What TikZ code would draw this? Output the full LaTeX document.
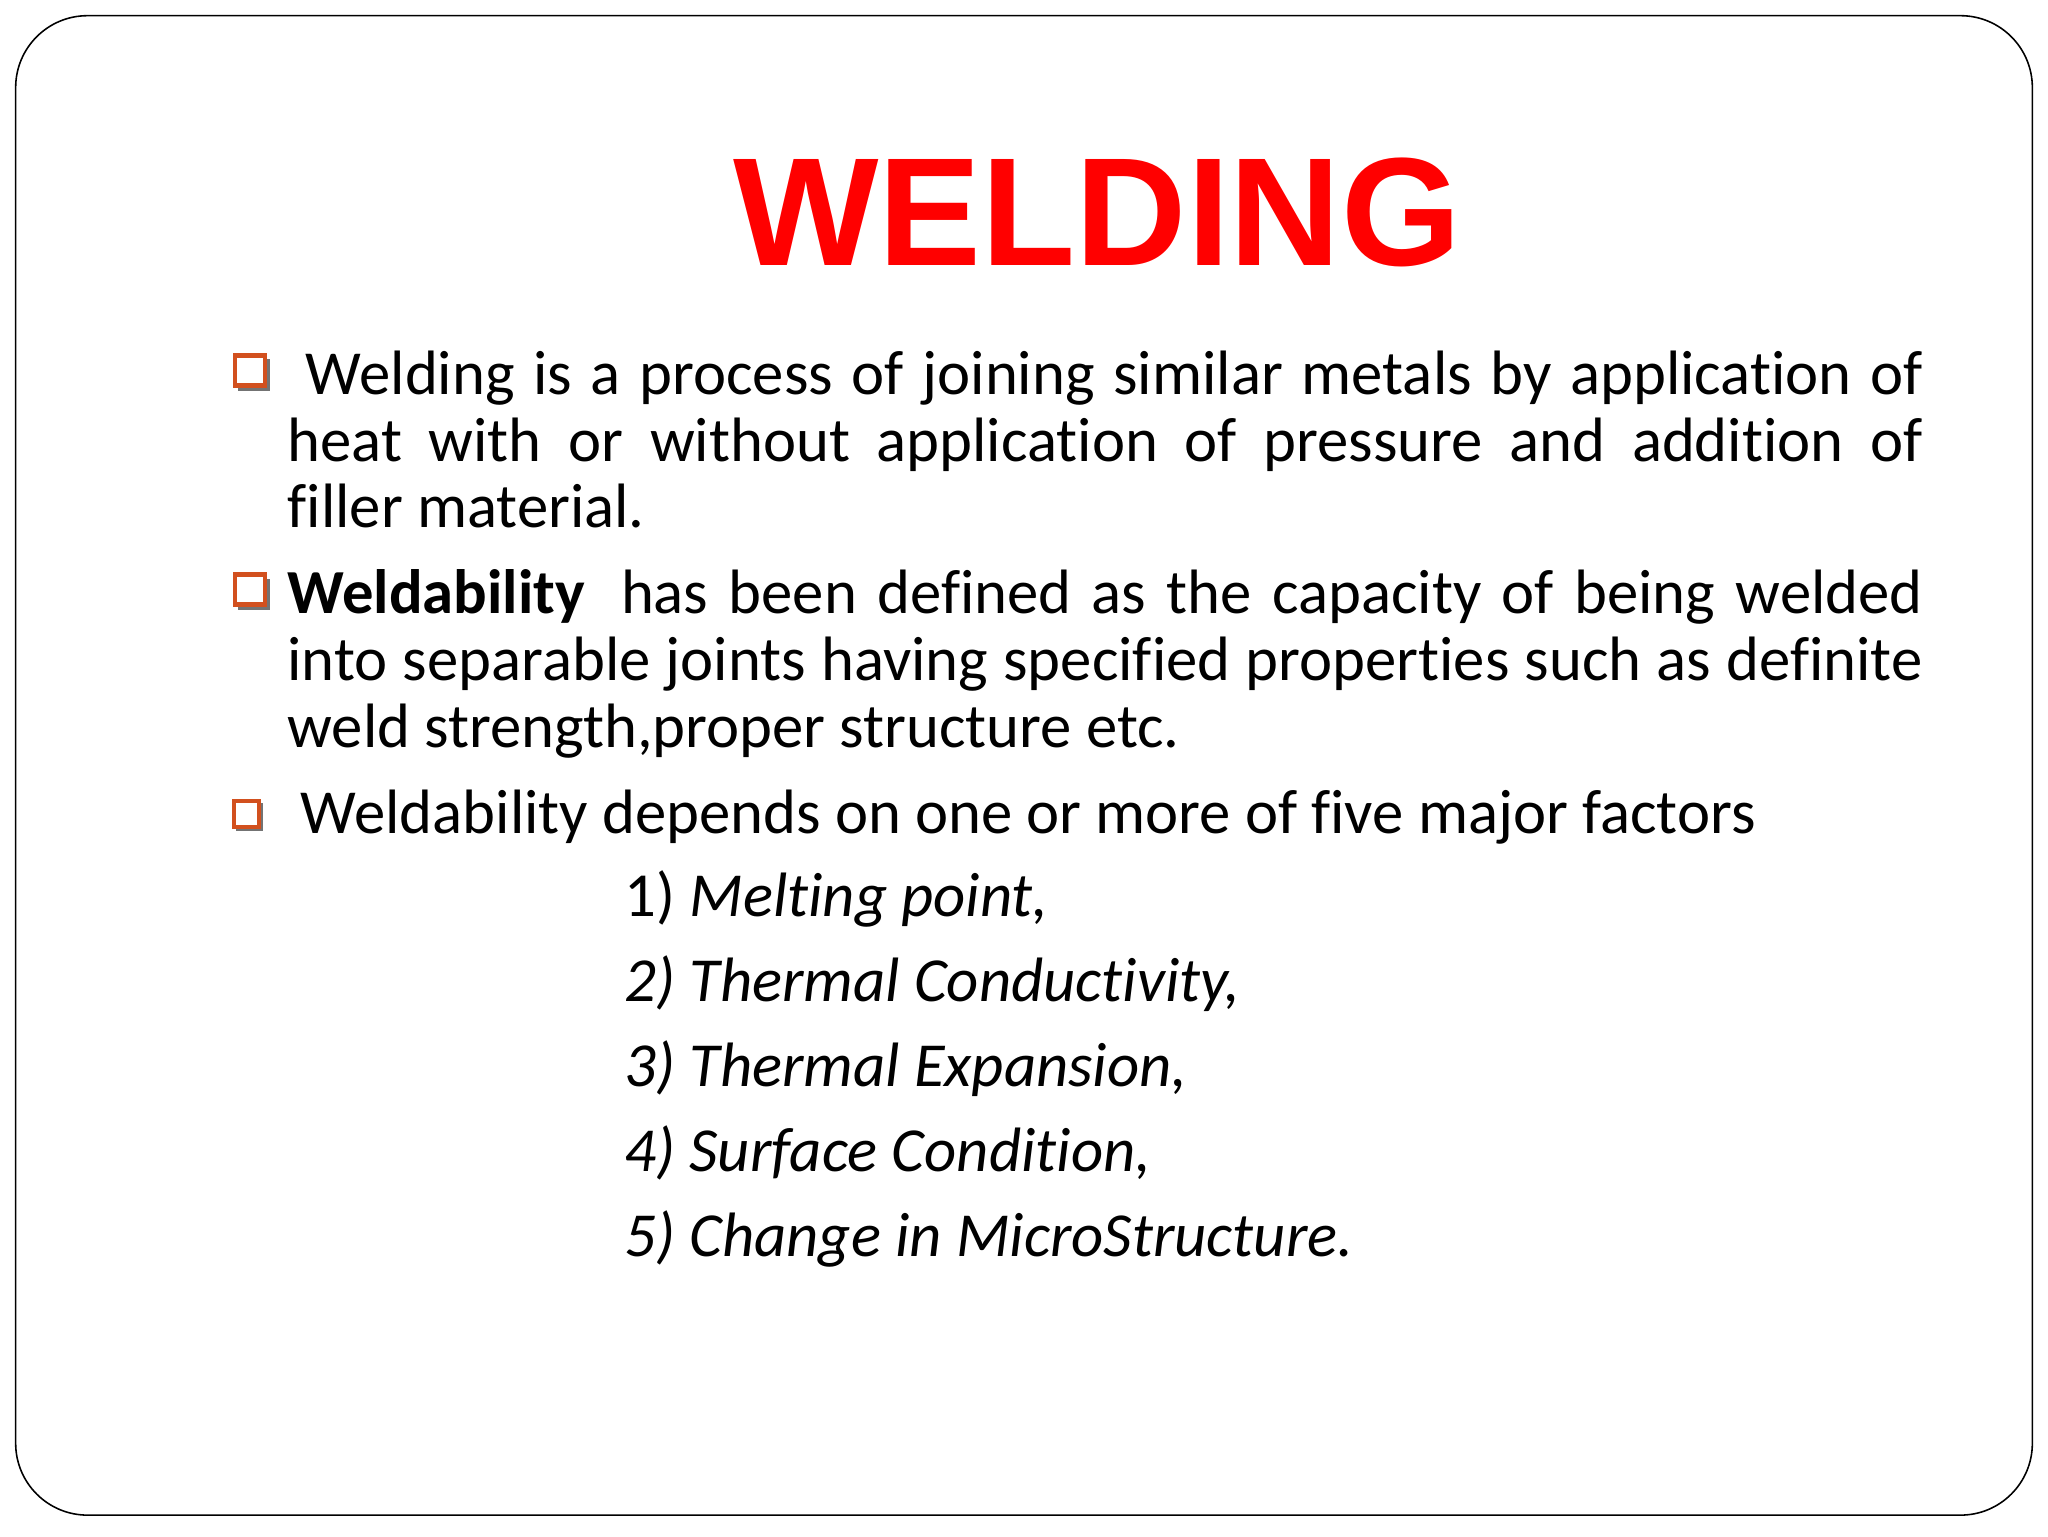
\documentclass[tikz,border=0pt]{standalone}
\usepackage{fontspec}
\setmainfont{Carlito}[Ligatures=NoCommon]
\newfontfamily\titlefont{Liberation Sans}
\definecolor{bul}{HTML}{D2501E}
\tikzset{ln/.style={anchor=base west,inner sep=0pt,font=\fontsize{48}{51}\selectfont},
 bsq/.style={draw=bul,line width=3.5pt}}
\newcommand{\jl}[1]{\makebox[1252pt][s]{#1}}
\begin{document}
\begin{tikzpicture}[x=1pt,y=-1pt]
\useasboundingbox (0,0) rectangle (1568,1176);
\draw[line width=1.2pt,rounded corners=55pt] (12,12) rectangle (1556,1160);
\node[inner sep=0pt,text=red,font=\titlefont\bfseries\fontsize{118}{118}\selectfont,anchor=base] (t) at (840,203) {WELDING};
% bullets
\fill[black!55] (182,275) rectangle (207,299);
\draw[bsq,fill=white] (180,272) rectangle (203,295);
\fill[black!55] (182,443) rectangle (207,467);
\draw[bsq,fill=white] (180,440) rectangle (203,463);
\fill[black!55] (181,615) rectangle (201,636);
\draw[bsq,line width=3pt,fill=white] (179,613) rectangle (198,633);
% paragraph 1
\node[ln] (a1) at (234,302) {\makebox[1238pt][s]{Welding is a process of joining similar metals by application of}};
\node[ln] (a2) at (220,353) {\jl{heat with or without application of pressure and addition of}};
\node[ln] (a3) at (220,404) {filler material.};
% paragraph 2
\node[ln] (b1) at (220,470) {\jl{\textbf{Weldability}\hspace{12pt} has been defined as the capacity of being welded}};
\node[ln] (b2) at (220,521) {\jl{into separable joints having specified properties such as definite}};
\node[ln] (b3) at (220,572) {weld strength,proper structure etc.};
% paragraph 3
\node[ln] (c1) at (230,638) {Weldability depends on one or more of five major factors};
\node[ln] (i1) at (478,702) {1) \textit{Melting point,}};
\node[ln] (i2) at (478,767) {\textit{2) Thermal Conductivity,}};
\node[ln] (i3) at (478,832) {\textit{3) Thermal Expansion,}};
\node[ln] (i4) at (478,897) {\textit{4) Surface Condition,}};
\node[ln] (i5) at (478,962) {\textit{5) Change in MicroStructure.}};
\end{tikzpicture}
\end{document}
